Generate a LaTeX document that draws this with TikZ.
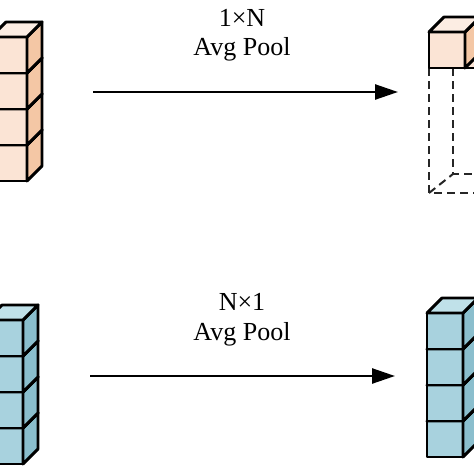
\documentclass[tikz,border=0pt]{standalone}
\usepackage{fontspec}
\setmainfont{Liberation Serif}
\usetikzlibrary{arrows.meta, positioning}
\definecolor{peachFront}{RGB}{251,228,213}
\definecolor{peachSide}{RGB}{244,199,165}
\definecolor{peachTop}{RGB}{252,237,227}
\definecolor{poolFront}{RGB}{168,210,222}
\definecolor{poolSide}{RGB}{138,190,205}
\definecolor{poolTop}{RGB}{192,225,233}

% one cube: front top-left corner (x,y), then front, side and top colours
\newcommand{\drawcube}[5]{%
  \filldraw[fill=#3] (#1,#2) rectangle ++(36,36);
  \filldraw[fill=#4] (#1+36,#2) -- ++(15,-15) -- ++(0,36) -- ++(-15,15) -- cycle;
  \filldraw[fill=#5] (#1,#2) -- ++(15,-15) -- ++(36,0) -- ++(-15,15) -- cycle;
}

\begin{document}
\begin{tikzpicture}[
    x=1pt, y=-1pt,
    cubeline/.style={line width=2.9pt, line join=round},
    label/.style={font=\fontsize{26}{29}\selectfont, inner sep=0pt, anchor=base},
    arrow/.style={-{Triangle[length=23pt, width=15pt]}, line width=2.5pt},
    hidden/.style={dashed, dash pattern=on 8pt off 5pt, line width=2pt, draw=black!85}
]
\useasboundingbox (0,0) rectangle (474,474);

% Input stacks
\begin{scope}[cubeline]
\foreach \y in {145,109,73,37} {\drawcube{-9}{\y}{peachFront}{peachSide}{peachTop}}
\foreach \y in {428,392,356,320} {\drawcube{-13}{\y}{poolFront}{poolSide}{poolTop}}
\end{scope}

% Pooled outputs
\draw[hidden] (429,68) -- (429,193) -- (480,193);
\draw[hidden] (453,68) -- (453,174) -- (480,174);
\draw[hidden] (429,193) -- (453,174);
\begin{scope}[cubeline]
\drawcube{465}{32}{peachFront}{peachSide}{peachTop}
\drawcube{429}{32}{peachFront}{peachSide}{peachTop}
\foreach \y in {421,385,349,313} {\drawcube{427}{\y}{poolFront}{poolSide}{poolTop}}
\end{scope}

% Pooling arrows
\coordinate (rowin) at (93,92);
\coordinate (rowout) at (398,92);
\coordinate (colin) at (90,376);
\coordinate (colout) at (395,376);
\draw[arrow] (rowin) -- (rowout);
\draw[arrow] (colin) -- (colout);

\node[label] (rowsize) at (242,26) {1×N};
\node[label] (rowname) at (242,55) {Avg Pool};
\node[label] (colsize) at (242,310) {N×1};
\node[label] (colname) at (242,340) {Avg Pool};
\end{tikzpicture}
\end{document}
